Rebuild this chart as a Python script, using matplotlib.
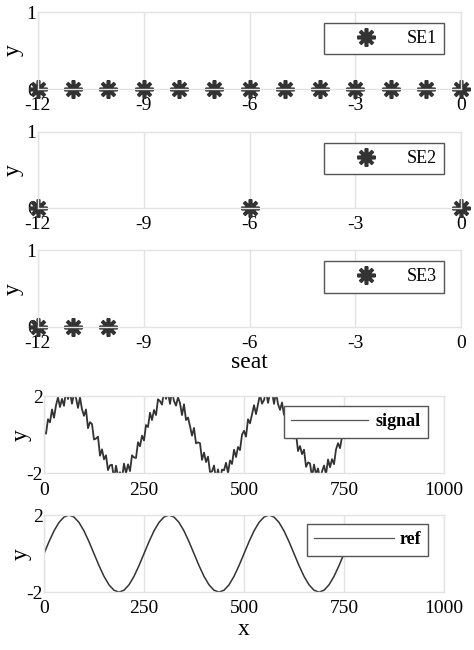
import numpy as np
import matplotlib
matplotlib.use("Agg")
import matplotlib.pyplot as plt

plt.rcParams['font.family'] = ['Liberation Serif', 'DejaVu Serif']
plt.rcParams['axes.unicode_minus'] = False

# ---------------- data ----------------
se1_seat = [-12, -11, -10, -9, -8, -7, -6, -5, -4, -3, -2, -1, 0]
se1_y = [0] * 13
se2_seat = [-12, -6, 0]
se2_y = [0, 0, 0]
se3_seat = [-12, -11, -10]
se3_y = [0, 0, 0]
seat_ticks = [-12, -9, -6, -3, 0]

signal_x = np.arange(0, 755, 5)
signal_y = [
    0.15, 0.05, 0.80, 0.64, 1.31, 0.88, 1.52, 1.94, 1.44, 1.86,
    1.50, 2.26, 1.85, 2.20, 1.61, 2.15, 1.91, 1.39, 1.94, 1.32,
    0.98, 1.31, 0.34, 0.65, 0.55, -0.25, -0.20, -0.10, -1.09, -0.76,
    -1.28, -1.07, -1.84, -1.59, -1.56, -2.30, -1.61, -2.15, -1.95, -2.26,
    -1.50, -2.01, -1.54, -1.89, -1.07, -1.18, -1.21, -0.39, -0.60, -0.05,
    -0.30, 0.50, 0.40, 1.14, 0.76, 1.28, 1.02, 1.84, 1.74, 1.56,
    2.25, 1.86, 2.20, 1.60, 2.26, 1.75, 1.51, 1.94, 1.64, 1.02,
    1.58, 0.76, 0.89, 0.45, -0.05, 0.35, -0.45, -0.40, -0.44, -1.31,
    -0.93, -1.42, -1.14, -1.94, -1.91, -1.60, -2.31, -1.80, -2.40, -1.81,
    -1.85, -1.46, -1.99, -1.34, -1.52, -0.78, -1.16, -0.64, -0.80, 0.00,
    0.20, -0.10, 0.80, 0.59, 1.06, 1.53, 1.07, 1.59, 2.09, 1.61,
    1.80, 2.26, 1.65, 2.15, 2.21, 1.60, 2.21, 1.59, 1.29, 1.67,
    1.03, 1.06, 0.34, 0.85, 0.30, -0.20, 0.05, -0.85, -0.59, -1.01,
    -0.78, -1.67, -1.44, -1.49, -2.21, -1.55, -2.06, -1.75, -2.30, -1.91,
    -1.60, -2.06, -1.29, -1.69, -1.27, -1.53, -0.76, -0.44, -0.70, -0.10,
    0.30,
]

ref_x = np.arange(0, 762.5, 12.5)
ref_y = [
    0.00, 0.62, 1.18, 1.62, 1.90, 2.00, 1.90, 1.62, 1.18, 0.62,
    0.00, -0.62, -1.18, -1.62, -1.90, -2.00, -1.90, -1.62, -1.18, -0.62,
    0.00, 0.62, 1.18, 1.62, 1.90, 2.00, 1.90, 1.62, 1.18, 0.62,
    0.00, -0.62, -1.18, -1.62, -1.90, -2.00, -1.90, -1.62, -1.18, -0.62,
    0.00, 0.62, 1.18, 1.62, 1.90, 2.00, 1.90, 1.62, 1.18, 0.62,
    0.00, -0.62, -1.18, -1.62, -1.90, -2.00, -1.90, -1.62, -1.18, -0.62,
    0.00,
]
x_ticks = [0, 250, 500, 750, 1000]

# ---------------- style ----------------
DARK = '#333333'
GRID = '#e3e3e3'
TICK_FS = 14
LAB_FS = 17
LEG_FS = 13

fig = plt.figure(figsize=(4.74, 6.5), dpi=100)


def style_axes(ax):
    for s in ax.spines.values():
        s.set_color(GRID)
        s.set_linewidth(1.0)
    ax.tick_params(length=0, labelsize=TICK_FS)
    ax.tick_params(axis='y', pad=1)
    ax.tick_params(axis='x', pad=6)
    ax.grid(axis='x', color=GRID, linewidth=1.0)
    ax.set_axisbelow(True)


def fix_ylabels(ax):
    for t in ax.get_yticklabels():
        t.set_verticalalignment('center_baseline')


def legend(ax, anchor, hl, htp, bold=False, line=False):
    leg = ax.legend(loc='upper right', bbox_to_anchor=anchor, borderaxespad=0,
                    fancybox=False, framealpha=1, edgecolor='#555555',
                    handlelength=hl, handletextpad=htp, borderpad=0.4,
                    prop={'size': LEG_FS, 'weight': 'bold' if bold else 'normal'})
    leg.get_frame().set_linewidth(1.0)
    if line:
        for h in leg.get_lines():
            h.set_linewidth(0.9)
            h.set_color('#555555')
    return leg


seat_axes = [
    (0.863, 0.1185),
    (0.680, 0.117),
    (0.497, 0.118),
]
seat_data = [(se1_seat, se1_y, 'SE1'), (se2_seat, se2_y, 'SE2'), (se3_seat, se3_y, 'SE3')]
for i, ((b, h), (sx, sy, name)) in enumerate(zip(seat_axes, seat_data)):
    ax = fig.add_axes([0.080, b, 0.893, h])
    style_axes(ax)
    ax.plot(sx, sy, linestyle='none', marker=(8, 2, 0), markersize=13,
            markeredgewidth=2.6, color=DARK, label=name, clip_on=False)
    ax.set_xlim(-12, 0)
    ax.set_ylim(0, 1)
    ax.set_xticks(seat_ticks)
    ax.set_yticks([0, 1])
    fix_ylabels(ax)
    ax.set_ylabel('y', fontsize=LAB_FS, labelpad=2)
    legend(ax, (0.96, 0.857), 3.9, 0.3)
    if i == 2:
        ax.set_xlabel('seat', fontsize=LAB_FS, labelpad=0)

# signal
ax4 = fig.add_axes([0.0928, 0.272, 0.844, 0.1185])
style_axes(ax4)
ax4.plot(signal_x, signal_y, color=DARK, linewidth=1.3, label='signal')
ax4.set_xlim(0, 1000)
ax4.set_ylim(-2, 2)
ax4.set_xticks(x_ticks)
ax4.set_yticks([-2, 2])
ax4.set_ylabel('y', fontsize=LAB_FS, labelpad=-4)
legend(ax4, (0.96, 0.87), 4.3, 0.4, bold=True, line=True)

# ref
ax5 = fig.add_axes([0.0928, 0.089, 0.844, 0.1185])
style_axes(ax5)
ax5.plot(ref_x, ref_y, color=DARK, linewidth=1.1, label='ref')
ax5.set_xlim(0, 1000)
ax5.set_ylim(-2, 2)
ax5.set_xticks(x_ticks)
ax5.set_yticks([-2, 2])
ax5.set_ylabel('y', fontsize=LAB_FS, labelpad=-4)
ax5.set_xlabel('x', fontsize=LAB_FS, labelpad=1)
legend(ax5, (0.96, 0.883), 4.4, 0.3, bold=True, line=True)

fig.savefig('out.png', dpi=100)
